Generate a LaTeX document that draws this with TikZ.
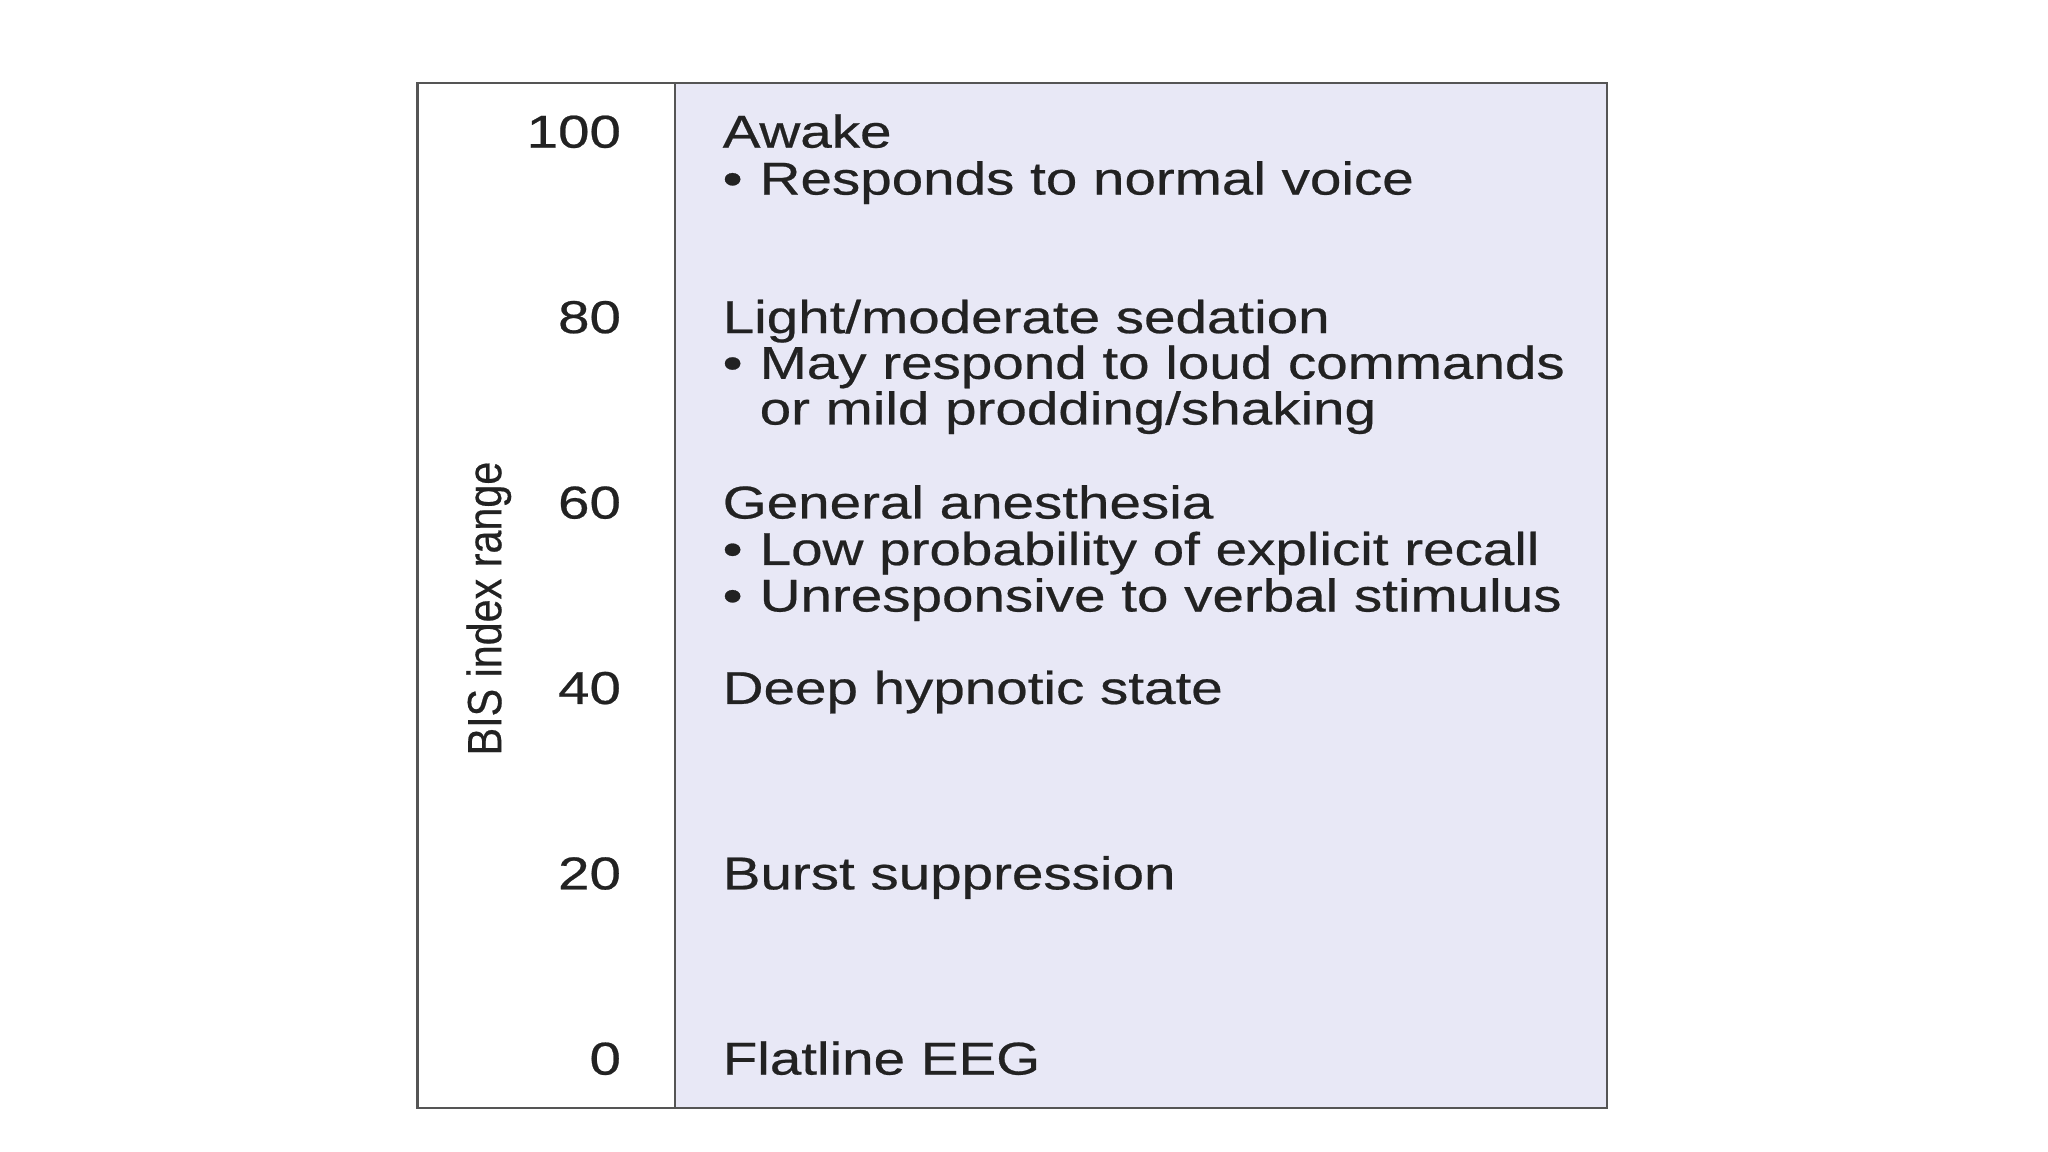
\documentclass[tikz,border=0pt]{standalone}
\usepackage{fontspec}
\setmainfont{Liberation Sans}[FakeStretch=1.23,FakeBold=0.5]
\newfontfamily\labfont{Liberation Sans}[FakeStretch=0.86,FakeBold=0.4]
\definecolor{txt}{HTML}{222222}
\definecolor{panel}{HTML}{E8E8F6}
\definecolor{frame}{HTML}{555555}
\begin{document}
\begin{tikzpicture}[x=0.9895pt,y=-0.9895pt,
  lbl/.style={anchor=base west,inner sep=0pt,text=txt,font=\fontsize{23}{24}\selectfont},
  num/.style={anchor=base east,inner sep=0pt,text=txt,font=\fontsize{23}{24}\selectfont}]
\useasboundingbox (0,0) rectangle (1034.9,582.1);
\fill[white] (0,0) rectangle (1034.9,582.1);
\fill[panel] (341,42) rectangle (812,560);
\draw[frame,line width=1.2pt] (211,42) rectangle (812,560);
\draw[frame,line width=1.2pt] (341,42) -- (341,560);
\newcommand{\bul}{\makebox[18.5pt][l]{\textbullet}}
\newcommand{\nobul}{\makebox[18.5pt][l]{}}
\node[num] (n100) at (314,74.6) {100};
\node[num] (n80) at (314,168.3) {80};
\node[num] (n60) at (314,262) {60};
\node[num] (n40) at (314,355.7) {40};
\node[num] (n20) at (314,449.4) {20};
\node[num] (n0) at (314,543) {0};
\node[inner sep=0pt,text=txt,rotate=90,font=\labfont\fontsize{24}{25}\selectfont] (ax) at (247,307.5) {BIS index range};
\node[lbl] (a1) at (365,74.6) {Awake};
\node[lbl] (a2) at (365,98.3) {\bul Responds to normal voice};
\node[lbl] (b1) at (365,168.3) {Light/moderate sedation};
\node[lbl] (b2) at (365,191.4) {\bul May respond to loud commands};
\node[lbl] (b3) at (365,214.5) {\nobul or mild prodding/shaking};
\node[lbl] (c1) at (365,262) {General anesthesia};
\node[lbl] (c2) at (365,285.5) {\bul Low probability of explicit recall};
\node[lbl] (c3) at (365,309) {\bul Unresponsive to verbal stimulus};
\node[lbl] (d1) at (365,355.7) {Deep hypnotic state};
\node[lbl] (e1) at (365,449.4) {Burst suppression};
\node[lbl] (f1) at (365,543) {Flatline EEG};
\end{tikzpicture}
\end{document}
